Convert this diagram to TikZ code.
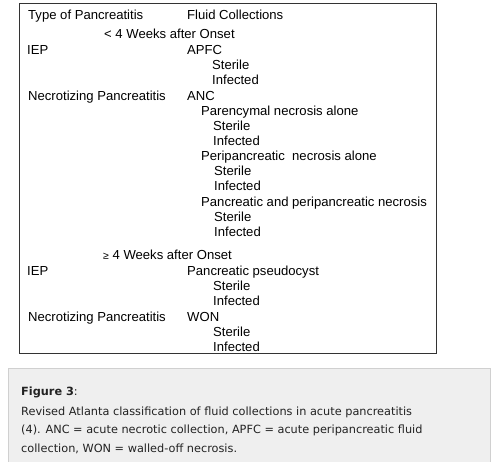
\documentclass[tikz,border=0pt]{standalone}
\usepackage{fontspec}
\setmainfont{Liberation Sans}
\newfontfamily\capfont{DejaVu Sans}
\definecolor{capfill}{HTML}{EFEFEF}
\definecolor{capline}{HTML}{D0D0D0}
\definecolor{captext}{HTML}{222222}
\tikzset{
  row/.style={anchor=base west, inner sep=0pt, font=\fontsize{13.1}{15}\selectfont},
  caprow/.style={anchor=base west, inner sep=0pt, text=captext, font=\capfont\fontsize{11.3}{13}\selectfont}
}
\begin{document}
\begin{tikzpicture}[x=1pt,y=-1pt]
  \useasboundingbox (0,0) rectangle (503,462);
  \fill[white] (0,0) rectangle (503,462);

  % table frame
  \draw[line width=1pt, black!80] (19,4) rectangle (436,353);

  % header
  \node[row] (type) at (28,20) {Type of Pancreatitis};
  \node[row] (fluid) at (187,20) {Fluid Collections};

  % early phase
  \node[row] (early) at (104,39) {< 4 Weeks after Onset};
  \node[row] (iep1) at (27,54.5) {IEP};
  \node[row] (apfc) at (187,54.5) {APFC};
  \node[row] (apfcS) at (212,70) {Sterile};
  \node[row] (apfcI) at (212,85) {Infected};
  \node[row] (necro1) at (28,101) {Necrotizing Pancreatitis};
  \node[row] (anc) at (187,101) {ANC};
  \node[row] (paren) at (201,116) {Parencymal necrosis alone};
  \node[row] (parenS) at (213,131) {Sterile};
  \node[row] (parenI) at (213,146) {Infected};
  \node[row] (peri) at (201,161) {Peripancreatic\ \ necrosis alone};
  \node[row] (periS) at (214,176) {Sterile};
  \node[row] (periI) at (214,191) {Infected};
  \node[row] (both) at (201,207) {Pancreatic and peripancreatic necrosis};
  \node[row] (bothS) at (214,222) {Sterile};
  \node[row] (bothI) at (214,237) {Infected};

  % late phase
  \node[row] (late) at (103,260) {{\fontsize{10.5}{12}\selectfont ≥} 4 Weeks after Onset};
  \node[row] (iep2) at (27,275.5) {IEP};
  \node[row] (pseudo) at (187,275.5) {Pancreatic pseudocyst};
  \node[row] (pseudoS) at (213,290.5) {Sterile};
  \node[row] (pseudoI) at (213,305.5) {Infected};
  \node[row] (necro2) at (28,321) {Necrotizing Pancreatitis};
  \node[row] (won) at (187,321) {WON};
  \node[row] (wonS) at (213,336) {Sterile};
  \node[row] (wonI) at (213,351) {Infected};

  % caption box
  \filldraw[fill=capfill, draw=capline, line width=1pt] (8,368) rectangle (490,470);
  \node[caprow] (fig) at (21,395.5) {\textbf{Figure 3}:};
  \node[caprow] (cap1) at (21,415.5) {Revised Atlanta classification of fluid collections in acute pancreatitis};
  \node[caprow] (cap2) at (21,433.5) {(4). ANC = acute necrotic collection, APFC = acute peripancreatic fluid};
  \node[caprow] (cap3) at (21,452.5) {collection, WON = walled-off necrosis.};
\end{tikzpicture}
\end{document}
